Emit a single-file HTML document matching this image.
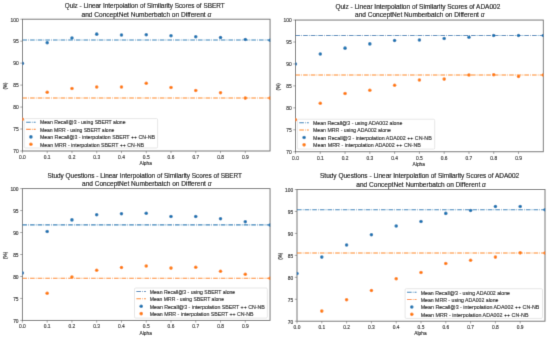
<!DOCTYPE html>
<html><head><meta charset="utf-8"><style>
html,body{margin:0;padding:0;background:#fff;}
body{width:550px;height:338px;overflow:hidden;}
svg{display:block;font-family:"Liberation Sans",sans-serif;}
text{fill:#141414;stroke:#141414;stroke-width:0.13px;}
text.tt{stroke-width:0.15px;fill:#000;stroke:#000;}
</style></head><body>
<svg width="550" height="338" viewBox="0 0 550 338">
<defs><filter id="bl" x="0" y="0" width="550" height="338" filterUnits="userSpaceOnUse"><feConvolveMatrix order="3" kernelMatrix="0 1 0 1 6 1 0 1 0" divisor="10" edgeMode="duplicate"/></filter></defs>
<g filter="url(#bl)">
<rect width="550" height="338" fill="#fff"/>
<clipPath id="cTL"><rect x="22.25" y="19.2" width="248" height="131.8"/></clipPath>
<rect x="22.45" y="19.2" width="247.6" height="131.8" fill="none" stroke="#666666" stroke-width="0.9"/>
<g clip-path="url(#cTL)">
<line x1="22.45" y1="39.98" x2="270.05" y2="39.98" stroke="#1f77b4" stroke-opacity="0.92" stroke-width="1.05" stroke-dasharray="4.61 1.15 0.72 1.15"/>
<line x1="22.45" y1="98.02" x2="270.05" y2="98.02" stroke="#ff7f0e" stroke-opacity="0.92" stroke-width="1.05" stroke-dasharray="4.61 1.15 0.72 1.15"/>
<circle cx="22.45" cy="63.4" r="1.78" fill="#1f77b4"/>
<circle cx="47.21" cy="42.75" r="1.78" fill="#1f77b4"/>
<circle cx="71.97" cy="37.96" r="1.78" fill="#1f77b4"/>
<circle cx="96.73" cy="34.14" r="1.78" fill="#1f77b4"/>
<circle cx="121.49" cy="34.93" r="1.78" fill="#1f77b4"/>
<circle cx="146.25" cy="34.8" r="1.78" fill="#1f77b4"/>
<circle cx="171.01" cy="35.81" r="1.78" fill="#1f77b4"/>
<circle cx="195.77" cy="36.77" r="1.78" fill="#1f77b4"/>
<circle cx="220.53" cy="37.56" r="1.78" fill="#1f77b4"/>
<circle cx="245.29" cy="39.5" r="1.78" fill="#1f77b4"/>
<circle cx="270.05" cy="40.2" r="1.78" fill="#1f77b4"/>
<circle cx="22.45" cy="119.19" r="1.78" fill="#ff7f0e"/>
<circle cx="47.21" cy="92.22" r="1.78" fill="#ff7f0e"/>
<circle cx="71.97" cy="88.44" r="1.78" fill="#ff7f0e"/>
<circle cx="96.73" cy="87.08" r="1.78" fill="#ff7f0e"/>
<circle cx="121.49" cy="87.08" r="1.78" fill="#ff7f0e"/>
<circle cx="146.25" cy="83.17" r="1.78" fill="#ff7f0e"/>
<circle cx="171.01" cy="87.52" r="1.78" fill="#ff7f0e"/>
<circle cx="195.77" cy="90.59" r="1.78" fill="#ff7f0e"/>
<circle cx="220.53" cy="92.79" r="1.78" fill="#ff7f0e"/>
<circle cx="245.29" cy="98.1" r="1.78" fill="#ff7f0e"/>
<circle cx="270.05" cy="98.1" r="1.78" fill="#ff7f0e"/>
</g>
<line x1="20.25" y1="151" x2="22.45" y2="151" stroke="#666666" stroke-width="0.6"/>
<text x="13.18" y="153.3" font-size="5.8" textLength="5.42" lengthAdjust="spacingAndGlyphs">70</text>
<line x1="20.25" y1="129.03" x2="22.45" y2="129.03" stroke="#666666" stroke-width="0.6"/>
<text x="13.18" y="131.33" font-size="5.8" textLength="5.42" lengthAdjust="spacingAndGlyphs">75</text>
<line x1="20.25" y1="107.07" x2="22.45" y2="107.07" stroke="#666666" stroke-width="0.6"/>
<text x="13.18" y="109.37" font-size="5.8" textLength="5.42" lengthAdjust="spacingAndGlyphs">80</text>
<line x1="20.25" y1="85.1" x2="22.45" y2="85.1" stroke="#666666" stroke-width="0.6"/>
<text x="13.18" y="87.4" font-size="5.8" textLength="5.42" lengthAdjust="spacingAndGlyphs">85</text>
<line x1="20.25" y1="63.13" x2="22.45" y2="63.13" stroke="#666666" stroke-width="0.6"/>
<text x="13.18" y="65.43" font-size="5.8" textLength="5.42" lengthAdjust="spacingAndGlyphs">90</text>
<line x1="20.25" y1="41.17" x2="22.45" y2="41.17" stroke="#666666" stroke-width="0.6"/>
<text x="13.18" y="43.47" font-size="5.8" textLength="5.42" lengthAdjust="spacingAndGlyphs">95</text>
<line x1="20.25" y1="19.2" x2="22.45" y2="19.2" stroke="#666666" stroke-width="0.6"/>
<text x="10.47" y="21.5" font-size="5.8" textLength="8.13" lengthAdjust="spacingAndGlyphs">100</text>
<line x1="22.45" y1="151" x2="22.45" y2="153.2" stroke="#666666" stroke-width="0.6"/>
<text x="19.06" y="158.9" font-size="5.8" textLength="6.77" lengthAdjust="spacingAndGlyphs">0.0</text>
<line x1="47.21" y1="151" x2="47.21" y2="153.2" stroke="#666666" stroke-width="0.6"/>
<text x="43.82" y="158.9" font-size="5.8" textLength="6.77" lengthAdjust="spacingAndGlyphs">0.1</text>
<line x1="71.97" y1="151" x2="71.97" y2="153.2" stroke="#666666" stroke-width="0.6"/>
<text x="68.58" y="158.9" font-size="5.8" textLength="6.77" lengthAdjust="spacingAndGlyphs">0.2</text>
<line x1="96.73" y1="151" x2="96.73" y2="153.2" stroke="#666666" stroke-width="0.6"/>
<text x="93.34" y="158.9" font-size="5.8" textLength="6.77" lengthAdjust="spacingAndGlyphs">0.3</text>
<line x1="121.49" y1="151" x2="121.49" y2="153.2" stroke="#666666" stroke-width="0.6"/>
<text x="118.1" y="158.9" font-size="5.8" textLength="6.77" lengthAdjust="spacingAndGlyphs">0.4</text>
<line x1="146.25" y1="151" x2="146.25" y2="153.2" stroke="#666666" stroke-width="0.6"/>
<text x="142.86" y="158.9" font-size="5.8" textLength="6.77" lengthAdjust="spacingAndGlyphs">0.5</text>
<line x1="171.01" y1="151" x2="171.01" y2="153.2" stroke="#666666" stroke-width="0.6"/>
<text x="167.62" y="158.9" font-size="5.8" textLength="6.77" lengthAdjust="spacingAndGlyphs">0.6</text>
<line x1="195.77" y1="151" x2="195.77" y2="153.2" stroke="#666666" stroke-width="0.6"/>
<text x="192.38" y="158.9" font-size="5.8" textLength="6.77" lengthAdjust="spacingAndGlyphs">0.7</text>
<line x1="220.53" y1="151" x2="220.53" y2="153.2" stroke="#666666" stroke-width="0.6"/>
<text x="217.14" y="158.9" font-size="5.8" textLength="6.77" lengthAdjust="spacingAndGlyphs">0.8</text>
<line x1="245.29" y1="151" x2="245.29" y2="153.2" stroke="#666666" stroke-width="0.6"/>
<text x="241.9" y="158.9" font-size="5.8" textLength="6.77" lengthAdjust="spacingAndGlyphs">0.9</text>
<text x="139.45" y="165.1" font-size="5.8" textLength="12.4" lengthAdjust="spacingAndGlyphs">Alpha</text>
<text x="-3.6" y="0" font-size="5.8" textLength="7.2" lengthAdjust="spacingAndGlyphs" transform="translate(7.25 86) rotate(-90)">(%)</text>
<text x="64.7" y="8.2" font-size="6.7" textLength="159.9" lengthAdjust="spacingAndGlyphs" class="tt">Quiz - Linear Interpolation of Similarity Scores of SBERT</text>
<text x="81.5" y="17" font-size="6.7" textLength="129.7" lengthAdjust="spacingAndGlyphs" class="tt">and ConceptNet Numberbatch on Different <tspan font-style="italic">&#945;</tspan></text>
<rect x="24.2" y="118.6" width="133.4" height="29.4" rx="1.2" fill="#ffffff" fill-opacity="0.85" stroke="#d6d6d6" stroke-width="0.6"/>
<line x1="26.1" y1="122.15" x2="35.6" y2="122.15" stroke="#1f77b4" stroke-opacity="0.92" stroke-width="1.05" stroke-dasharray="4.61 1.15 0.72 1.15"/>
<text x="40" y="124.45" font-size="6" textLength="85.5" lengthAdjust="spacingAndGlyphs">Mean Recall@3 - using SBERT alone</text>
<line x1="26.1" y1="129.35" x2="35.6" y2="129.35" stroke="#ff7f0e" stroke-opacity="0.92" stroke-width="1.05" stroke-dasharray="4.61 1.15 0.72 1.15"/>
<text x="40" y="131.65" font-size="6" textLength="74.3" lengthAdjust="spacingAndGlyphs">Mean MRR - using SBERT alone</text>
<circle cx="30.9" cy="136.9" r="1.78" fill="#1f77b4"/>
<text x="40" y="139.2" font-size="6" textLength="115.1" lengthAdjust="spacingAndGlyphs">Mean Recall@3 - interpolation SBERT ++ CN-NB</text>
<circle cx="30.9" cy="144.25" r="1.78" fill="#ff7f0e"/>
<text x="40" y="146.55" font-size="6" textLength="103.9" lengthAdjust="spacingAndGlyphs">Mean MRR - interpolation SBERT ++ CN-NB</text>
<clipPath id="cTR"><rect x="295.3" y="20.05" width="248.2" height="131.7"/></clipPath>
<rect x="295.5" y="20.05" width="247.8" height="131.7" fill="none" stroke="#666666" stroke-width="0.9"/>
<g clip-path="url(#cTR)">
<line x1="295.5" y1="35.59" x2="543.3" y2="35.59" stroke="#1f77b4" stroke-opacity="0.92" stroke-width="1.05" stroke-dasharray="4.61 1.15 0.72 1.15"/>
<line x1="295.5" y1="74.92" x2="543.3" y2="74.92" stroke="#ff7f0e" stroke-opacity="0.92" stroke-width="1.05" stroke-dasharray="4.61 1.15 0.72 1.15"/>
<circle cx="295.5" cy="63.95" r="1.78" fill="#1f77b4"/>
<circle cx="320.28" cy="54.03" r="1.78" fill="#1f77b4"/>
<circle cx="345.06" cy="48.15" r="1.78" fill="#1f77b4"/>
<circle cx="369.84" cy="43.89" r="1.78" fill="#1f77b4"/>
<circle cx="394.62" cy="40.51" r="1.78" fill="#1f77b4"/>
<circle cx="419.4" cy="40.02" r="1.78" fill="#1f77b4"/>
<circle cx="444.18" cy="38.49" r="1.78" fill="#1f77b4"/>
<circle cx="468.96" cy="37.17" r="1.78" fill="#1f77b4"/>
<circle cx="493.74" cy="35.59" r="1.78" fill="#1f77b4"/>
<circle cx="518.52" cy="35.59" r="1.78" fill="#1f77b4"/>
<circle cx="543.3" cy="35.59" r="1.78" fill="#1f77b4"/>
<circle cx="295.5" cy="119.7" r="1.78" fill="#ff7f0e"/>
<circle cx="320.28" cy="103.24" r="1.78" fill="#ff7f0e"/>
<circle cx="345.06" cy="93.58" r="1.78" fill="#ff7f0e"/>
<circle cx="369.84" cy="90.29" r="1.78" fill="#ff7f0e"/>
<circle cx="394.62" cy="85.29" r="1.78" fill="#ff7f0e"/>
<circle cx="419.4" cy="80.06" r="1.78" fill="#ff7f0e"/>
<circle cx="444.18" cy="79.1" r="1.78" fill="#ff7f0e"/>
<circle cx="468.96" cy="74.92" r="1.78" fill="#ff7f0e"/>
<circle cx="493.74" cy="74.66" r="1.78" fill="#ff7f0e"/>
<circle cx="518.52" cy="76.46" r="1.78" fill="#ff7f0e"/>
<circle cx="543.3" cy="74.92" r="1.78" fill="#ff7f0e"/>
</g>
<line x1="293.3" y1="151.75" x2="295.5" y2="151.75" stroke="#666666" stroke-width="0.6"/>
<text x="286.23" y="154.05" font-size="5.8" textLength="5.42" lengthAdjust="spacingAndGlyphs">70</text>
<line x1="293.3" y1="129.8" x2="295.5" y2="129.8" stroke="#666666" stroke-width="0.6"/>
<text x="286.23" y="132.1" font-size="5.8" textLength="5.42" lengthAdjust="spacingAndGlyphs">75</text>
<line x1="293.3" y1="107.85" x2="295.5" y2="107.85" stroke="#666666" stroke-width="0.6"/>
<text x="286.23" y="110.15" font-size="5.8" textLength="5.42" lengthAdjust="spacingAndGlyphs">80</text>
<line x1="293.3" y1="85.9" x2="295.5" y2="85.9" stroke="#666666" stroke-width="0.6"/>
<text x="286.23" y="88.2" font-size="5.8" textLength="5.42" lengthAdjust="spacingAndGlyphs">85</text>
<line x1="293.3" y1="63.95" x2="295.5" y2="63.95" stroke="#666666" stroke-width="0.6"/>
<text x="286.23" y="66.25" font-size="5.8" textLength="5.42" lengthAdjust="spacingAndGlyphs">90</text>
<line x1="293.3" y1="42" x2="295.5" y2="42" stroke="#666666" stroke-width="0.6"/>
<text x="286.23" y="44.3" font-size="5.8" textLength="5.42" lengthAdjust="spacingAndGlyphs">95</text>
<line x1="293.3" y1="20.05" x2="295.5" y2="20.05" stroke="#666666" stroke-width="0.6"/>
<text x="283.52" y="22.35" font-size="5.8" textLength="8.13" lengthAdjust="spacingAndGlyphs">100</text>
<line x1="295.5" y1="151.75" x2="295.5" y2="153.95" stroke="#666666" stroke-width="0.6"/>
<text x="292.11" y="159.65" font-size="5.8" textLength="6.77" lengthAdjust="spacingAndGlyphs">0.0</text>
<line x1="320.28" y1="151.75" x2="320.28" y2="153.95" stroke="#666666" stroke-width="0.6"/>
<text x="316.89" y="159.65" font-size="5.8" textLength="6.77" lengthAdjust="spacingAndGlyphs">0.1</text>
<line x1="345.06" y1="151.75" x2="345.06" y2="153.95" stroke="#666666" stroke-width="0.6"/>
<text x="341.67" y="159.65" font-size="5.8" textLength="6.77" lengthAdjust="spacingAndGlyphs">0.2</text>
<line x1="369.84" y1="151.75" x2="369.84" y2="153.95" stroke="#666666" stroke-width="0.6"/>
<text x="366.45" y="159.65" font-size="5.8" textLength="6.77" lengthAdjust="spacingAndGlyphs">0.3</text>
<line x1="394.62" y1="151.75" x2="394.62" y2="153.95" stroke="#666666" stroke-width="0.6"/>
<text x="391.23" y="159.65" font-size="5.8" textLength="6.77" lengthAdjust="spacingAndGlyphs">0.4</text>
<line x1="419.4" y1="151.75" x2="419.4" y2="153.95" stroke="#666666" stroke-width="0.6"/>
<text x="416.01" y="159.65" font-size="5.8" textLength="6.77" lengthAdjust="spacingAndGlyphs">0.5</text>
<line x1="444.18" y1="151.75" x2="444.18" y2="153.95" stroke="#666666" stroke-width="0.6"/>
<text x="440.79" y="159.65" font-size="5.8" textLength="6.77" lengthAdjust="spacingAndGlyphs">0.6</text>
<line x1="468.96" y1="151.75" x2="468.96" y2="153.95" stroke="#666666" stroke-width="0.6"/>
<text x="465.57" y="159.65" font-size="5.8" textLength="6.77" lengthAdjust="spacingAndGlyphs">0.7</text>
<line x1="493.74" y1="151.75" x2="493.74" y2="153.95" stroke="#666666" stroke-width="0.6"/>
<text x="490.35" y="159.65" font-size="5.8" textLength="6.77" lengthAdjust="spacingAndGlyphs">0.8</text>
<line x1="518.52" y1="151.75" x2="518.52" y2="153.95" stroke="#666666" stroke-width="0.6"/>
<text x="515.13" y="159.65" font-size="5.8" textLength="6.77" lengthAdjust="spacingAndGlyphs">0.9</text>
<text x="412.6" y="165.85" font-size="5.8" textLength="12.4" lengthAdjust="spacingAndGlyphs">Alpha</text>
<text x="-3.6" y="0" font-size="5.8" textLength="7.2" lengthAdjust="spacingAndGlyphs" transform="translate(280.3 86.8) rotate(-90)">(%)</text>
<text x="335.4" y="8.9" font-size="6.7" textLength="164.9" lengthAdjust="spacingAndGlyphs" class="tt">Quiz - Linear Interpolation of Similarity Scores of ADA002</text>
<text x="355" y="17.4" font-size="6.7" textLength="129.4" lengthAdjust="spacingAndGlyphs" class="tt">and ConceptNet Numberbatch on Different <tspan font-style="italic">&#945;</tspan></text>
<rect x="297.4" y="119.2" width="137.3" height="29.9" rx="1.2" fill="#ffffff" fill-opacity="0.85" stroke="#d6d6d6" stroke-width="0.6"/>
<line x1="299.3" y1="122.75" x2="308.8" y2="122.75" stroke="#1f77b4" stroke-opacity="0.92" stroke-width="1.05" stroke-dasharray="4.61 1.15 0.72 1.15"/>
<text x="313" y="125.05" font-size="6" textLength="89.3" lengthAdjust="spacingAndGlyphs">Mean Recall@3 - using ADA002 alone</text>
<line x1="299.3" y1="129.95" x2="308.8" y2="129.95" stroke="#ff7f0e" stroke-opacity="0.92" stroke-width="1.05" stroke-dasharray="4.61 1.15 0.72 1.15"/>
<text x="313" y="132.25" font-size="6" textLength="77.8" lengthAdjust="spacingAndGlyphs">Mean MRR - using ADA002 alone</text>
<circle cx="304.1" cy="137.5" r="1.78" fill="#1f77b4"/>
<text x="313" y="139.8" font-size="6" textLength="118.7" lengthAdjust="spacingAndGlyphs">Mean Recall@3 - interpolation ADA002 ++ CN-NB</text>
<circle cx="304.1" cy="144.85" r="1.78" fill="#ff7f0e"/>
<text x="313" y="147.15" font-size="6" textLength="107.8" lengthAdjust="spacingAndGlyphs">Mean MRR - interpolation ADA002 ++ CN-NB</text>
<clipPath id="cBL"><rect x="22.2" y="188.6" width="248.05" height="131.8"/></clipPath>
<rect x="22.4" y="188.6" width="247.65" height="131.8" fill="none" stroke="#666666" stroke-width="0.9"/>
<g clip-path="url(#cBL)">
<line x1="22.4" y1="224.89" x2="270.05" y2="224.89" stroke="#1f77b4" stroke-opacity="0.92" stroke-width="1.05" stroke-dasharray="4.61 1.15 0.72 1.15"/>
<line x1="22.4" y1="278.22" x2="270.05" y2="278.22" stroke="#ff7f0e" stroke-opacity="0.92" stroke-width="1.05" stroke-dasharray="4.61 1.15 0.72 1.15"/>
<circle cx="22.4" cy="272.95" r="1.78" fill="#1f77b4"/>
<circle cx="47.16" cy="231.48" r="1.78" fill="#1f77b4"/>
<circle cx="71.93" cy="219.88" r="1.78" fill="#1f77b4"/>
<circle cx="96.69" cy="214.7" r="1.78" fill="#1f77b4"/>
<circle cx="121.46" cy="213.69" r="1.78" fill="#1f77b4"/>
<circle cx="146.22" cy="213.29" r="1.78" fill="#1f77b4"/>
<circle cx="170.99" cy="216.59" r="1.78" fill="#1f77b4"/>
<circle cx="195.75" cy="216.59" r="1.78" fill="#1f77b4"/>
<circle cx="220.52" cy="218.69" r="1.78" fill="#1f77b4"/>
<circle cx="245.29" cy="221.77" r="1.78" fill="#1f77b4"/>
<circle cx="270.05" cy="225.06" r="1.78" fill="#1f77b4"/>
<circle cx="47.16" cy="293.21" r="1.78" fill="#ff7f0e"/>
<circle cx="71.93" cy="276.99" r="1.78" fill="#ff7f0e"/>
<circle cx="96.69" cy="270.32" r="1.78" fill="#ff7f0e"/>
<circle cx="121.46" cy="267.59" r="1.78" fill="#ff7f0e"/>
<circle cx="146.22" cy="266.01" r="1.78" fill="#ff7f0e"/>
<circle cx="170.99" cy="268.12" r="1.78" fill="#ff7f0e"/>
<circle cx="195.75" cy="267.24" r="1.78" fill="#ff7f0e"/>
<circle cx="220.52" cy="271.24" r="1.78" fill="#ff7f0e"/>
<circle cx="245.29" cy="274.31" r="1.78" fill="#ff7f0e"/>
<circle cx="270.05" cy="278.22" r="1.78" fill="#ff7f0e"/>
</g>
<line x1="20.2" y1="320.4" x2="22.4" y2="320.4" stroke="#666666" stroke-width="0.6"/>
<text x="13.13" y="322.7" font-size="5.8" textLength="5.42" lengthAdjust="spacingAndGlyphs">70</text>
<line x1="20.2" y1="298.43" x2="22.4" y2="298.43" stroke="#666666" stroke-width="0.6"/>
<text x="13.13" y="300.73" font-size="5.8" textLength="5.42" lengthAdjust="spacingAndGlyphs">75</text>
<line x1="20.2" y1="276.47" x2="22.4" y2="276.47" stroke="#666666" stroke-width="0.6"/>
<text x="13.13" y="278.77" font-size="5.8" textLength="5.42" lengthAdjust="spacingAndGlyphs">80</text>
<line x1="20.2" y1="254.5" x2="22.4" y2="254.5" stroke="#666666" stroke-width="0.6"/>
<text x="13.13" y="256.8" font-size="5.8" textLength="5.42" lengthAdjust="spacingAndGlyphs">85</text>
<line x1="20.2" y1="232.53" x2="22.4" y2="232.53" stroke="#666666" stroke-width="0.6"/>
<text x="13.13" y="234.83" font-size="5.8" textLength="5.42" lengthAdjust="spacingAndGlyphs">90</text>
<line x1="20.2" y1="210.57" x2="22.4" y2="210.57" stroke="#666666" stroke-width="0.6"/>
<text x="13.13" y="212.87" font-size="5.8" textLength="5.42" lengthAdjust="spacingAndGlyphs">95</text>
<line x1="20.2" y1="188.6" x2="22.4" y2="188.6" stroke="#666666" stroke-width="0.6"/>
<text x="10.42" y="190.9" font-size="5.8" textLength="8.13" lengthAdjust="spacingAndGlyphs">100</text>
<line x1="22.4" y1="320.4" x2="22.4" y2="322.6" stroke="#666666" stroke-width="0.6"/>
<text x="19.01" y="328.3" font-size="5.8" textLength="6.77" lengthAdjust="spacingAndGlyphs">0.0</text>
<line x1="47.16" y1="320.4" x2="47.16" y2="322.6" stroke="#666666" stroke-width="0.6"/>
<text x="43.78" y="328.3" font-size="5.8" textLength="6.77" lengthAdjust="spacingAndGlyphs">0.1</text>
<line x1="71.93" y1="320.4" x2="71.93" y2="322.6" stroke="#666666" stroke-width="0.6"/>
<text x="68.54" y="328.3" font-size="5.8" textLength="6.77" lengthAdjust="spacingAndGlyphs">0.2</text>
<line x1="96.69" y1="320.4" x2="96.69" y2="322.6" stroke="#666666" stroke-width="0.6"/>
<text x="93.31" y="328.3" font-size="5.8" textLength="6.77" lengthAdjust="spacingAndGlyphs">0.3</text>
<line x1="121.46" y1="320.4" x2="121.46" y2="322.6" stroke="#666666" stroke-width="0.6"/>
<text x="118.07" y="328.3" font-size="5.8" textLength="6.77" lengthAdjust="spacingAndGlyphs">0.4</text>
<line x1="146.22" y1="320.4" x2="146.22" y2="322.6" stroke="#666666" stroke-width="0.6"/>
<text x="142.84" y="328.3" font-size="5.8" textLength="6.77" lengthAdjust="spacingAndGlyphs">0.5</text>
<line x1="170.99" y1="320.4" x2="170.99" y2="322.6" stroke="#666666" stroke-width="0.6"/>
<text x="167.6" y="328.3" font-size="5.8" textLength="6.77" lengthAdjust="spacingAndGlyphs">0.6</text>
<line x1="195.75" y1="320.4" x2="195.75" y2="322.6" stroke="#666666" stroke-width="0.6"/>
<text x="192.37" y="328.3" font-size="5.8" textLength="6.77" lengthAdjust="spacingAndGlyphs">0.7</text>
<line x1="220.52" y1="320.4" x2="220.52" y2="322.6" stroke="#666666" stroke-width="0.6"/>
<text x="217.13" y="328.3" font-size="5.8" textLength="6.77" lengthAdjust="spacingAndGlyphs">0.8</text>
<line x1="245.29" y1="320.4" x2="245.29" y2="322.6" stroke="#666666" stroke-width="0.6"/>
<text x="241.9" y="328.3" font-size="5.8" textLength="6.77" lengthAdjust="spacingAndGlyphs">0.9</text>
<text x="139.43" y="334.5" font-size="5.8" textLength="12.4" lengthAdjust="spacingAndGlyphs">Alpha</text>
<text x="-3.6" y="0" font-size="5.8" textLength="7.2" lengthAdjust="spacingAndGlyphs" transform="translate(7.2 255.4) rotate(-90)">(%)</text>
<text x="47.4" y="177.7" font-size="6.7" textLength="194.6" lengthAdjust="spacingAndGlyphs" class="tt">Study Questions - Linear Interpolation of Similarity Scores of SBERT</text>
<text x="82" y="185.9" font-size="6.7" textLength="129.5" lengthAdjust="spacingAndGlyphs" class="tt">and ConceptNet Numberbatch on Different <tspan font-style="italic">&#945;</tspan></text>
<rect x="134.5" y="288" width="132.8" height="30.1" rx="1.2" fill="#ffffff" fill-opacity="0.85" stroke="#d6d6d6" stroke-width="0.6"/>
<line x1="136.4" y1="291.55" x2="145.9" y2="291.55" stroke="#1f77b4" stroke-opacity="0.92" stroke-width="1.05" stroke-dasharray="4.61 1.15 0.72 1.15"/>
<text x="149.7" y="293.85" font-size="6" textLength="85.5" lengthAdjust="spacingAndGlyphs">Mean Recall@3 - using SBERT alone</text>
<line x1="136.4" y1="298.75" x2="145.9" y2="298.75" stroke="#ff7f0e" stroke-opacity="0.92" stroke-width="1.05" stroke-dasharray="4.61 1.15 0.72 1.15"/>
<text x="149.7" y="301.05" font-size="6" textLength="74.3" lengthAdjust="spacingAndGlyphs">Mean MRR - using SBERT alone</text>
<circle cx="141.2" cy="306.3" r="1.78" fill="#1f77b4"/>
<text x="149.7" y="308.6" font-size="6" textLength="115.1" lengthAdjust="spacingAndGlyphs">Mean Recall@3 - interpolation SBERT ++ CN-NB</text>
<circle cx="141.2" cy="313.65" r="1.78" fill="#ff7f0e"/>
<text x="149.7" y="315.95" font-size="6" textLength="103.9" lengthAdjust="spacingAndGlyphs">Mean MRR - interpolation SBERT ++ CN-NB</text>
<clipPath id="cBR"><rect x="296.8" y="189.5" width="248.4" height="131.7"/></clipPath>
<rect x="297" y="189.5" width="248" height="131.7" fill="none" stroke="#666666" stroke-width="0.9"/>
<g clip-path="url(#cBR)">
<line x1="297" y1="209.78" x2="545" y2="209.78" stroke="#1f77b4" stroke-opacity="0.92" stroke-width="1.05" stroke-dasharray="4.61 1.15 0.72 1.15"/>
<line x1="297" y1="253.07" x2="545" y2="253.07" stroke="#ff7f0e" stroke-opacity="0.92" stroke-width="1.05" stroke-dasharray="4.61 1.15 0.72 1.15"/>
<circle cx="297" cy="273.57" r="1.78" fill="#1f77b4"/>
<circle cx="321.8" cy="257.11" r="1.78" fill="#1f77b4"/>
<circle cx="346.6" cy="245.03" r="1.78" fill="#1f77b4"/>
<circle cx="371.4" cy="234.72" r="1.78" fill="#1f77b4"/>
<circle cx="396.2" cy="225.94" r="1.78" fill="#1f77b4"/>
<circle cx="421" cy="221.55" r="1.78" fill="#1f77b4"/>
<circle cx="445.8" cy="213.38" r="1.78" fill="#1f77b4"/>
<circle cx="470.6" cy="210.48" r="1.78" fill="#1f77b4"/>
<circle cx="495.4" cy="206.49" r="1.78" fill="#1f77b4"/>
<circle cx="520.2" cy="206.49" r="1.78" fill="#1f77b4"/>
<circle cx="545" cy="209.78" r="1.78" fill="#1f77b4"/>
<circle cx="321.8" cy="311.1" r="1.78" fill="#ff7f0e"/>
<circle cx="346.6" cy="299.69" r="1.78" fill="#ff7f0e"/>
<circle cx="371.4" cy="290.47" r="1.78" fill="#ff7f0e"/>
<circle cx="396.2" cy="278.84" r="1.78" fill="#ff7f0e"/>
<circle cx="421" cy="272.47" r="1.78" fill="#ff7f0e"/>
<circle cx="445.8" cy="263.56" r="1.78" fill="#ff7f0e"/>
<circle cx="470.6" cy="260.18" r="1.78" fill="#ff7f0e"/>
<circle cx="495.4" cy="257.11" r="1.78" fill="#ff7f0e"/>
<circle cx="520.2" cy="252.85" r="1.78" fill="#ff7f0e"/>
<circle cx="545" cy="253.07" r="1.78" fill="#ff7f0e"/>
</g>
<line x1="294.8" y1="321.2" x2="297" y2="321.2" stroke="#666666" stroke-width="0.6"/>
<text x="287.73" y="323.5" font-size="5.8" textLength="5.42" lengthAdjust="spacingAndGlyphs">70</text>
<line x1="294.8" y1="299.25" x2="297" y2="299.25" stroke="#666666" stroke-width="0.6"/>
<text x="287.73" y="301.55" font-size="5.8" textLength="5.42" lengthAdjust="spacingAndGlyphs">75</text>
<line x1="294.8" y1="277.3" x2="297" y2="277.3" stroke="#666666" stroke-width="0.6"/>
<text x="287.73" y="279.6" font-size="5.8" textLength="5.42" lengthAdjust="spacingAndGlyphs">80</text>
<line x1="294.8" y1="255.35" x2="297" y2="255.35" stroke="#666666" stroke-width="0.6"/>
<text x="287.73" y="257.65" font-size="5.8" textLength="5.42" lengthAdjust="spacingAndGlyphs">85</text>
<line x1="294.8" y1="233.4" x2="297" y2="233.4" stroke="#666666" stroke-width="0.6"/>
<text x="287.73" y="235.7" font-size="5.8" textLength="5.42" lengthAdjust="spacingAndGlyphs">90</text>
<line x1="294.8" y1="211.45" x2="297" y2="211.45" stroke="#666666" stroke-width="0.6"/>
<text x="287.73" y="213.75" font-size="5.8" textLength="5.42" lengthAdjust="spacingAndGlyphs">95</text>
<line x1="294.8" y1="189.5" x2="297" y2="189.5" stroke="#666666" stroke-width="0.6"/>
<text x="285.02" y="191.8" font-size="5.8" textLength="8.13" lengthAdjust="spacingAndGlyphs">100</text>
<line x1="297" y1="321.2" x2="297" y2="323.4" stroke="#666666" stroke-width="0.6"/>
<text x="293.61" y="329.1" font-size="5.8" textLength="6.77" lengthAdjust="spacingAndGlyphs">0.0</text>
<line x1="321.8" y1="321.2" x2="321.8" y2="323.4" stroke="#666666" stroke-width="0.6"/>
<text x="318.41" y="329.1" font-size="5.8" textLength="6.77" lengthAdjust="spacingAndGlyphs">0.1</text>
<line x1="346.6" y1="321.2" x2="346.6" y2="323.4" stroke="#666666" stroke-width="0.6"/>
<text x="343.21" y="329.1" font-size="5.8" textLength="6.77" lengthAdjust="spacingAndGlyphs">0.2</text>
<line x1="371.4" y1="321.2" x2="371.4" y2="323.4" stroke="#666666" stroke-width="0.6"/>
<text x="368.01" y="329.1" font-size="5.8" textLength="6.77" lengthAdjust="spacingAndGlyphs">0.3</text>
<line x1="396.2" y1="321.2" x2="396.2" y2="323.4" stroke="#666666" stroke-width="0.6"/>
<text x="392.81" y="329.1" font-size="5.8" textLength="6.77" lengthAdjust="spacingAndGlyphs">0.4</text>
<line x1="421" y1="321.2" x2="421" y2="323.4" stroke="#666666" stroke-width="0.6"/>
<text x="417.61" y="329.1" font-size="5.8" textLength="6.77" lengthAdjust="spacingAndGlyphs">0.5</text>
<line x1="445.8" y1="321.2" x2="445.8" y2="323.4" stroke="#666666" stroke-width="0.6"/>
<text x="442.41" y="329.1" font-size="5.8" textLength="6.77" lengthAdjust="spacingAndGlyphs">0.6</text>
<line x1="470.6" y1="321.2" x2="470.6" y2="323.4" stroke="#666666" stroke-width="0.6"/>
<text x="467.21" y="329.1" font-size="5.8" textLength="6.77" lengthAdjust="spacingAndGlyphs">0.7</text>
<line x1="495.4" y1="321.2" x2="495.4" y2="323.4" stroke="#666666" stroke-width="0.6"/>
<text x="492.01" y="329.1" font-size="5.8" textLength="6.77" lengthAdjust="spacingAndGlyphs">0.8</text>
<line x1="520.2" y1="321.2" x2="520.2" y2="323.4" stroke="#666666" stroke-width="0.6"/>
<text x="516.81" y="329.1" font-size="5.8" textLength="6.77" lengthAdjust="spacingAndGlyphs">0.9</text>
<text x="414.2" y="335.3" font-size="5.8" textLength="12.4" lengthAdjust="spacingAndGlyphs">Alpha</text>
<text x="-3.6" y="0" font-size="5.8" textLength="7.2" lengthAdjust="spacingAndGlyphs" transform="translate(281.8 256.25) rotate(-90)">(%)</text>
<text x="320" y="178.1" font-size="6.7" textLength="199.1" lengthAdjust="spacingAndGlyphs" class="tt">Study Questions - Linear Interpolation of Similarity Scores of ADA002</text>
<text x="356.3" y="187" font-size="6.7" textLength="129.5" lengthAdjust="spacingAndGlyphs" class="tt">and ConceptNet Numberbatch on Different <tspan font-style="italic">&#945;</tspan></text>
<rect x="405.1" y="288.7" width="137.4" height="29.7" rx="1.2" fill="#ffffff" fill-opacity="0.85" stroke="#d6d6d6" stroke-width="0.6"/>
<line x1="407" y1="292.25" x2="416.5" y2="292.25" stroke="#1f77b4" stroke-opacity="0.92" stroke-width="1.05" stroke-dasharray="4.61 1.15 0.72 1.15"/>
<text x="420.7" y="294.55" font-size="6" textLength="89.3" lengthAdjust="spacingAndGlyphs">Mean Recall@3 - using ADA002 alone</text>
<line x1="407" y1="299.45" x2="416.5" y2="299.45" stroke="#ff7f0e" stroke-opacity="0.92" stroke-width="1.05" stroke-dasharray="4.61 1.15 0.72 1.15"/>
<text x="420.7" y="301.75" font-size="6" textLength="77.8" lengthAdjust="spacingAndGlyphs">Mean MRR - using ADA002 alone</text>
<circle cx="411.8" cy="307" r="1.78" fill="#1f77b4"/>
<text x="420.7" y="309.3" font-size="6" textLength="118.7" lengthAdjust="spacingAndGlyphs">Mean Recall@3 - interpolation ADA002 ++ CN-NB</text>
<circle cx="411.8" cy="314.35" r="1.78" fill="#ff7f0e"/>
<text x="420.7" y="316.65" font-size="6" textLength="107.8" lengthAdjust="spacingAndGlyphs">Mean MRR - interpolation ADA002 ++ CN-NB</text>
</g>
</svg>
</body></html>
